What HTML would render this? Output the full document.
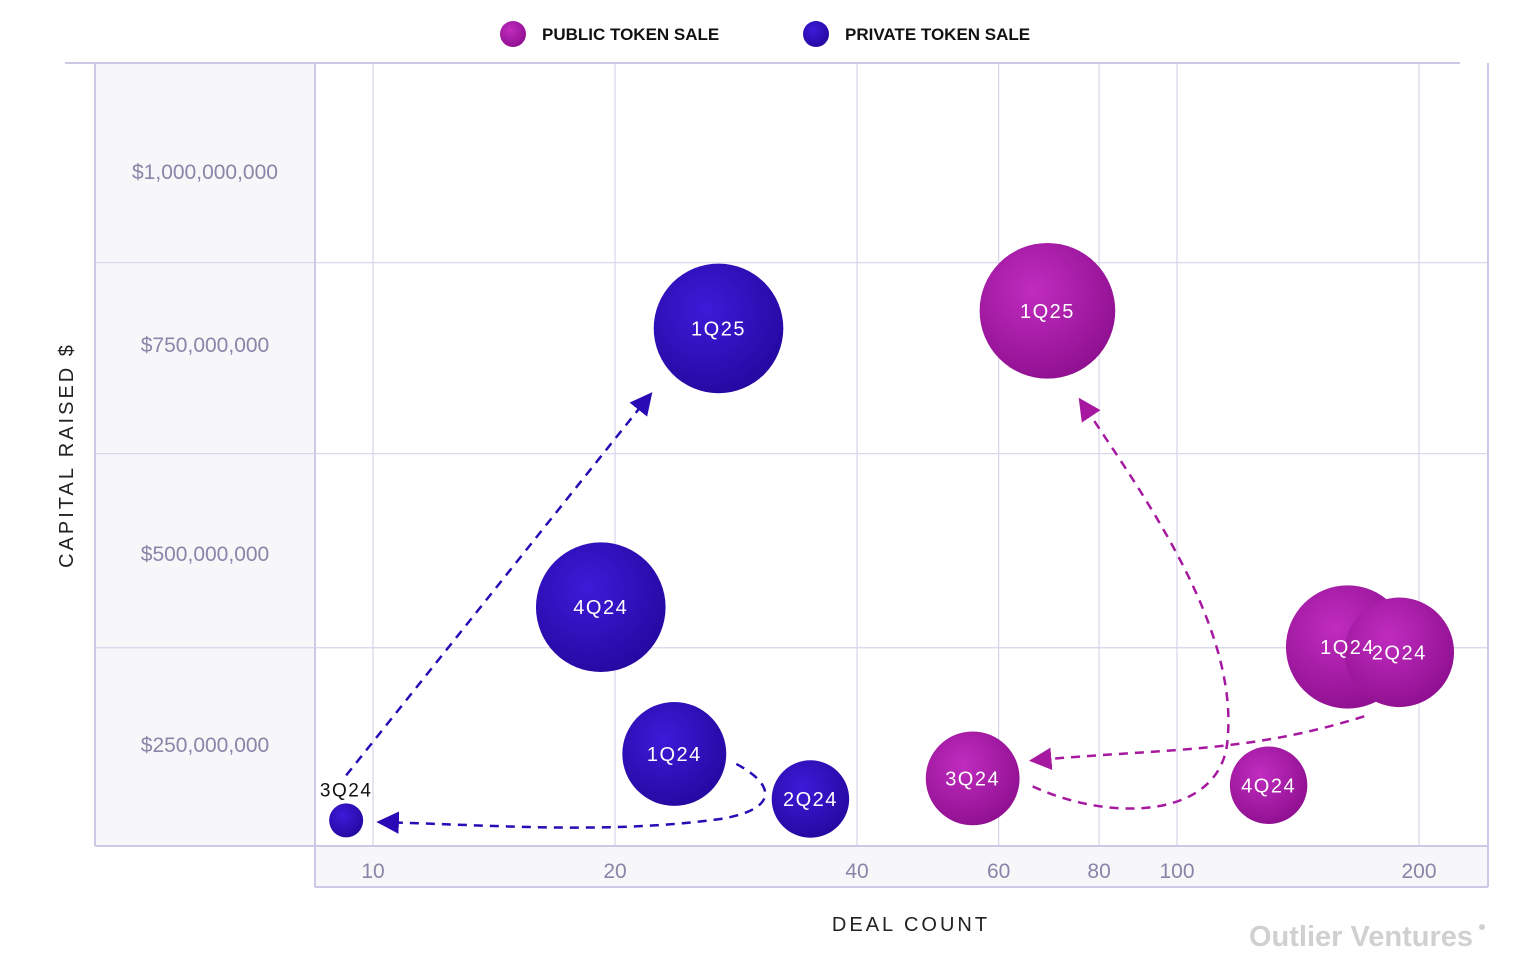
<!DOCTYPE html>
<html><head><meta charset="utf-8"><style>
body{margin:0;background:#fff;font-family:"Liberation Sans",sans-serif}
svg{display:block}
</style></head><body>
<svg width="1536" height="972" viewBox="0 0 1536 972" id="chart">
<defs>
<radialGradient id="gPriv" cx="40%" cy="35%" r="70%"><stop offset="0" stop-color="#3d1ad8"/><stop offset="1" stop-color="#24089f"/></radialGradient>
<radialGradient id="gPub" cx="40%" cy="35%" r="70%"><stop offset="0" stop-color="#c02cbf"/><stop offset="1" stop-color="#8e0f8f"/></radialGradient>
<marker id="mPriv" viewBox="0 0 10 10" refX="3" refY="5" markerWidth="9" markerHeight="9" orient="auto"><path d="M0,0 L10,5 L0,10 z" fill="#2a0ab5"/></marker>
<marker id="mPub" viewBox="0 0 10 10" refX="3" refY="5" markerWidth="9" markerHeight="9" orient="auto"><path d="M0,0 L10,5 L0,10 z" fill="#a5189f"/></marker>
</defs>
<rect x="95" y="63" width="220" height="783" fill="#f7f7fa"/>
<rect x="315" y="846" width="1173" height="41" fill="#f7f7fa"/>
<g id="grid" stroke="#d9d3ea" stroke-width="1.2" fill="none"></g>
<g id="frame" stroke="#cfc7e6" stroke-width="2" fill="none">
<line x1="65" y1="63" x2="1460" y2="63"/>
<line x1="95" y1="63" x2="95" y2="846"/>
<line x1="315" y1="63" x2="315" y2="887"/>
<line x1="95" y1="846" x2="1488" y2="846"/>
<line x1="315" y1="887" x2="1488" y2="887"/>
<line x1="1488" y1="63" x2="1488" y2="887"/>
</g>
<g id="ticks" font-size="21" fill="#8a84a8"></g>
<g id="arrows" fill="none" stroke-width="2.5" stroke-dasharray="9,7"></g>
<g id="bubbles"></g>
<g id="blabels"></g>
<text x="73" y="455" transform="rotate(-90 73 455)" text-anchor="middle" font-size="20" letter-spacing="3" fill="#222">CAPITAL RAISED $</text>
<text x="911" y="931" text-anchor="middle" font-size="20" letter-spacing="3" fill="#222">DEAL COUNT</text>
<g><circle cx="513" cy="34" r="13" fill="url(#gPub)"/><text x="542" y="40" font-size="17" font-weight="bold" fill="#111">PUBLIC TOKEN SALE</text></g>
<g><circle cx="816" cy="34" r="13" fill="url(#gPriv)"/><text x="845" y="40" font-size="17" font-weight="bold" fill="#111">PRIVATE TOKEN SALE</text></g>
<text x="1473" y="946" text-anchor="end" font-size="29" font-weight="bold" fill="#d0d0d0">Outlier Ventures</text>
<circle cx="1482" cy="927" r="3" fill="#d0d0d0"/>
</svg>
<script>
const xTicks=[10,20,40,60,80,100,200];
const yTicks=[250e6,500e6,750e6,1000e6];
const yTickLabels=["$250,000,000","$500,000,000","$750,000,000","$1,000,000,000"];
const yGridVals=[376e6,630e6,880e6];
const privLabels=["1Q24","2Q24","3Q24","4Q24","1Q25"];
const privDeals=[23.7,35,9.26,19.2,26.9];
const privCapital=[237e6,178e6,150e6,429e6,794e6];
const privSize=[27,15,2.9,42,42];
const pubLabels=["1Q24","2Q24","3Q24","4Q24","1Q25"];
const pubDeals=[163,189,55.7,130,69];
const pubCapital=[377e6,370e6,205e6,196e6,817e6];
const pubSize=[38,30,22,15,46];

const NS="http://www.w3.org/2000/svg";
function xS(v){return 373+804*Math.log10(v/10);}
function yS(v){return 935-v/250e6*191;}
function rS(s){return 10*Math.sqrt(s);}
function mk(tag,attrs,parent){const e=document.createElementNS(NS,tag);for(const k in attrs)e.setAttribute(k,attrs[k]);parent.appendChild(e);return e;}
const grid=document.getElementById('grid'),ticks=document.getElementById('ticks'),arrows=document.getElementById('arrows'),bub=document.getElementById('bubbles'),blab=document.getElementById('blabels');
xTicks.forEach(t=>{const x=xS(t);
 const l=mk('line',{x1:x,y1:63,x2:x,y2:846},grid);
 
 
 const tx=mk('text',{x:x,y:878,'text-anchor':'middle'},ticks);tx.textContent=t;
 
 });
yGridVals.forEach(v=>{const y=yS(v);
 const l=mk('line',{x1:95,y1:y,x2:1488,y2:y},grid);
 
 });
yTicks.forEach((v,i)=>{const tx=mk('text',{x:205,y:yS(v)+8-(i===2?18:0),'text-anchor':'middle'},ticks);tx.textContent=yTickLabels[i];
 
 });
function P(arr,cap,i){return [xS(arr[i]),yS(cap[i])];}
{const a=P(privDeals,privCapital,2),b=P(privDeals,privCapital,4),c=P(privDeals,privCapital,0),d=P(privDeals,privCapital,1);
 let p=mk('path',{d:`M${a[0]},${a[1]-45} L${b[0]-76},${b[1]+76}`,stroke:'#2a0ab5','marker-end':'url(#mPriv)'},arrows);
 
 
 p=mk('path',{d:`M${c[0]+62},${c[1]+10} C${c[0]+100},${c[1]+30} ${d[0]-30},${d[1]+10} ${d[0]-90},${d[1]+20} C${d[0]-200},${d[1]+35} ${a[0]+150},${a[1]+5} ${a[0]+46},${a[1]+2}`,stroke:'#2a0ab5','marker-end':'url(#mPriv)'},arrows);
 
 }
{const a=P(pubDeals,pubCapital,1),b=P(pubDeals,pubCapital,2),c=P(pubDeals,pubCapital,4);
 let p=mk('path',{d:`M${a[0]-35},${a[1]+64} C${a[0]-150},${a[1]+100} ${b[0]+200},${b[1]-30} ${b[0]+72},${b[1]-19}`,stroke:'#a5189f','marker-end':'url(#mPub)'},arrows);
 
 
 p=mk('path',{d:`M${b[0]+60},${b[1]+8} C${b[0]+140},${b[1]+45} ${b[0]+250},${b[1]+40} ${b[0]+255},${b[1]-40} C${b[0]+265},${b[1]-150} ${c[0]+100},${c[1]+190} ${c[0]+40},${c[1]+100}`,stroke:'#a5189f','marker-end':'url(#mPub)'},arrows);
 
 }
function drawSeries(labels,deals,cap,size,fill,name){
 labels.forEach((lb,i)=>{const x=xS(deals[i]),y=yS(cap[i]),r=rS(size[i]);
  const c=mk('circle',{cx:x,cy:y,r:r,fill:fill},bub);
  
  
  const small=r<25;
  const t=mk('text',{x:x,y:small?y-r-7:y+7,'text-anchor':'middle','font-size':small?19:20,'letter-spacing':'1.5',fill:small?'#111':'#fff'},blab);
  t.textContent=lb;
  
  });}
drawSeries(privLabels,privDeals,privCapital,privSize,'url(#gPriv)','private');
drawSeries(pubLabels,pubDeals,pubCapital,pubSize,'url(#gPub)','public');
</script>
</body></html>
